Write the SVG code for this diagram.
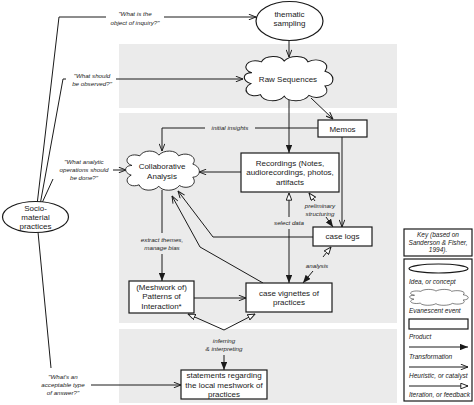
<svg xmlns="http://www.w3.org/2000/svg" width="474" height="405" viewBox="0 0 474 405">
<style>
.panel{fill:#ebebeb;stroke:none}
.nd{fill:#fff;stroke:#1a1a1a;stroke-width:1.2}
.cl{fill:#fff;stroke:#1a1a1a;stroke-width:1.2;vector-effect:non-scaling-stroke}
.t{font-family:"Liberation Sans",Arial,sans-serif;font-size:8px;fill:#1a1a1a;text-anchor:middle}
.l{font-family:"Liberation Sans",Arial,sans-serif;font-size:6.2px;font-style:italic;fill:#1a1a1a;text-anchor:middle}
.k{font-family:"Liberation Sans",Arial,sans-serif;font-size:6.5px;font-style:italic;fill:#1a1a1a}
.c path,.c line{fill:none;stroke:#1a1a1a;stroke-width:1}
</style>
<defs>
<marker id="fill" viewBox="0 0 10 8" refX="10" refY="4" markerWidth="8" markerHeight="6.4" markerUnits="userSpaceOnUse" orient="auto"><path d="M0,0 L10,4 L0,8 z" fill="#1a1a1a"/></marker>
<marker id="open" viewBox="0 0 10 8" refX="9.5" refY="4" markerWidth="8" markerHeight="6.4" markerUnits="userSpaceOnUse" orient="auto"><path d="M0.5,0.5 L9.5,4 L0.5,7.5" fill="none" stroke="#1a1a1a" stroke-width="1.2"/></marker>
<marker id="hollow" viewBox="0 0 10 8" refX="9.5" refY="4" markerWidth="8" markerHeight="6.4" markerUnits="userSpaceOnUse" orient="auto-start-reverse"><path d="M0.5,0.5 L9.5,4 L0.5,7.5 z" fill="#fff" stroke="#1a1a1a" stroke-width="1.2"/></marker>
<path id="cloud" d="M-38,-8 C-50,-12 -44,-28 -28,-22 C-24,-31 -8,-31 -4,-23 C2,-31 18,-31 21,-22 C32,-29 46,-20 39,-10 C50,-6 50,8 39,9 C46,20 32,28 22,21 C17,30 0,30 -4,22 C-10,30 -26,30 -29,20 C-42,26 -50,12 -39,6 C-49,2 -48,-8 -38,-8 Z"/>
</defs>

<g id="panels">
<rect class="panel" x="119" y="44" width="278" height="64"/>
<rect class="panel" x="119" y="113" width="278" height="210"/>
<rect class="panel" x="119" y="329" width="278" height="74"/>
</g>

<g id="connectors" class="c">
<path d="M37,205 L59,17 L106,17"/>
<path d="M164,17 L256,17" marker-end="url(#open)"/>
<path d="M40,205 L63,79 L66,79"/>
<path d="M116,79 L243,79" marker-end="url(#open)"/>
<path d="M42,203 L53,179"/>
<path d="M113,170 L126,170" marker-end="url(#open)"/>
<path d="M38,232 L51,368"/>
<path d="M91,385 L181,385" marker-end="url(#open)"/>
<path d="M289,41 L289,57" marker-end="url(#open)"/>
<path d="M311,98 L333,119" marker-end="url(#open)"/>
<path d="M289,100 L289,153" marker-end="url(#fill)"/>
<path d="M318,128 L255,128"/>
<path d="M205,128 L162,128 L162,151" marker-end="url(#open)"/>
<path d="M241,172 L199,172" marker-end="url(#open)"/>
<path d="M342,137 L342,227" marker-end="url(#open)"/>
<path d="M315,201 L309,193" marker-end="url(#hollow)"/>
<path d="M326,217 L333,227" marker-end="url(#fill)"/>
<path d="M289,217 L289,193" marker-end="url(#hollow)"/>
<path d="M289,229 L289,283" marker-end="url(#fill)"/>
<path d="M313,237 L213,237 L178,191" marker-end="url(#open)"/>
<path d="M263,283 L200,247 L172,196" marker-end="url(#open)"/>
<path d="M162,190 L162,233"/>
<path d="M162,254 L162,281" marker-end="url(#fill)"/>
<path d="M194,298 L246,298" marker-end="url(#open)"/>
<path d="M323,257 L331,247" marker-end="url(#hollow)"/>
<path d="M313,271 L303,283" marker-end="url(#fill)"/>
<path d="M188,314 L224,330 L255,314" marker-start="url(#hollow)" marker-end="url(#hollow)"/>
<path d="M224,355 L224,370" marker-end="url(#fill)"/>
</g>

<g id="labels">
<text class="l" x="135" y="16">"What is the</text>
<text class="l" x="135" y="25">object of inquiry?"</text>
<text class="l" x="92" y="77.5">"What should</text>
<text class="l" x="92" y="85.5">be observed?"</text>
<text class="l" x="84" y="164">"What analytic</text>
<text class="l" x="84" y="172">operations should</text>
<text class="l" x="84" y="180">be done?"</text>
<text class="l" x="63" y="378.5">"What's an</text>
<text class="l" x="63" y="386.5">acceptable type</text>
<text class="l" x="63" y="394.5">of answer?"</text>
<text class="l" x="230" y="130">initial insights</text>
<text class="l" x="320" y="207.5">preliminary</text>
<text class="l" x="320" y="215.5">structuring</text>
<text class="l" x="289" y="225">select data</text>
<text class="l" x="162" y="241.5">extract themes,</text>
<text class="l" x="162" y="249.5">manage bias</text>
<text class="l" x="317" y="268">analysis</text>
<text class="l" x="224" y="343">inferring</text>
<text class="l" x="224" y="351">&amp; interpreting</text>
</g>

<g id="socio">
<ellipse class="nd" cx="35.5" cy="217" rx="33" ry="15.5"/>
<text class="t" x="35.5" y="211">Socio-</text>
<text class="t" x="35.5" y="220">material</text>
<text class="t" x="35.5" y="229">practices</text>
</g>

<g id="thematic">
<ellipse class="nd" cx="289.5" cy="21" rx="33.5" ry="19.5"/>
<text class="t" x="289.5" y="16.5">thematic</text>
<text class="t" x="289.5" y="25.5">sampling</text>
</g>

<g id="raw">
<use href="#cloud" class="cl" transform="translate(288,79) scale(0.95,0.78)"/>
<text class="t" x="288" y="82">Raw Sequences</text>
</g>

<g id="memos">
<rect class="nd" x="318" y="120" width="49" height="17"/>
<text class="t" x="342.5" y="131.5">Memos</text>
</g>

<g id="recordings">
<rect class="nd" x="241" y="153" width="98" height="39"/>
<text class="t" x="290" y="165.7">Recordings (Notes,</text>
<text class="t" x="290" y="175.3">audiorecordings, photos,</text>
<text class="t" x="290" y="184.7">artifacts</text>
</g>

<g id="collab">
<use href="#cloud" class="cl" transform="translate(162,171) scale(0.79,0.69)"/>
<text class="t" x="162" y="169.3">Collaborative</text>
<text class="t" x="162" y="178.7">Analysis</text>
</g>

<g id="caselogs">
<rect class="nd" x="313" y="227" width="59" height="19"/>
<text class="t" x="342.5" y="239.3">case logs</text>
</g>

<g id="meshwork">
<rect class="nd" x="129" y="281" width="65" height="32"/>
<text class="t" x="161.5" y="290">(Meshwork of)</text>
<text class="t" x="161.5" y="299.3">Patterns of</text>
<text class="t" x="161.5" y="308.7">Interaction*</text>
</g>

<g id="vignettes">
<rect class="nd" x="246" y="283" width="86" height="29"/>
<text class="t" x="289" y="296">case vignettes of</text>
<text class="t" x="289" y="305.3">practices</text>
</g>

<g id="statements">
<rect class="nd" x="181" y="370" width="86" height="29"/>
<text class="t" x="224" y="378.3">statements regarding</text>
<text class="t" x="224" y="387.7">the local meshwork of</text>
<text class="t" x="224" y="396.7">practices</text>
</g>

<g id="key">
<rect class="nd" x="404" y="229" width="68" height="27" stroke-width="0.8"/>
<text class="k" x="438" y="237" text-anchor="middle">Key (based on</text>
<text class="k" x="438" y="244.5" text-anchor="middle">Sanderson &amp; Fisher,</text>
<text class="k" x="438" y="252" text-anchor="middle">1994).</text>
<rect class="nd" x="404" y="259" width="68" height="142" stroke-width="0.8"/>
<ellipse class="nd" cx="438.5" cy="268.5" rx="29.5" ry="4.5" stroke-width="1"/>
<text class="k" x="409" y="284">Idea, or concept</text>
<use href="#cloud" class="cl" transform="translate(438.5,297.5) scale(0.63,0.28)"/>
<text class="k" x="409" y="313">Evanescent event</text>
<rect class="nd" x="409" y="319" width="59" height="10" stroke-width="1"/>
<text class="k" x="409" y="339">Product</text>
<line x1="409" y1="347" x2="468" y2="347" stroke="#1a1a1a" stroke-width="1" marker-end="url(#fill)"/>
<text class="k" x="409" y="359">Transformation</text>
<line x1="409" y1="367" x2="468" y2="367" stroke="#1a1a1a" stroke-width="1" marker-end="url(#open)"/>
<text class="k" x="409" y="378">Heuristic, or catalyst</text>
<line x1="409" y1="386" x2="468" y2="386" stroke="#1a1a1a" stroke-width="1" marker-end="url(#hollow)"/>
<text class="k" x="409" y="397">Iteration, or feedback</text>
</g>
</svg>
